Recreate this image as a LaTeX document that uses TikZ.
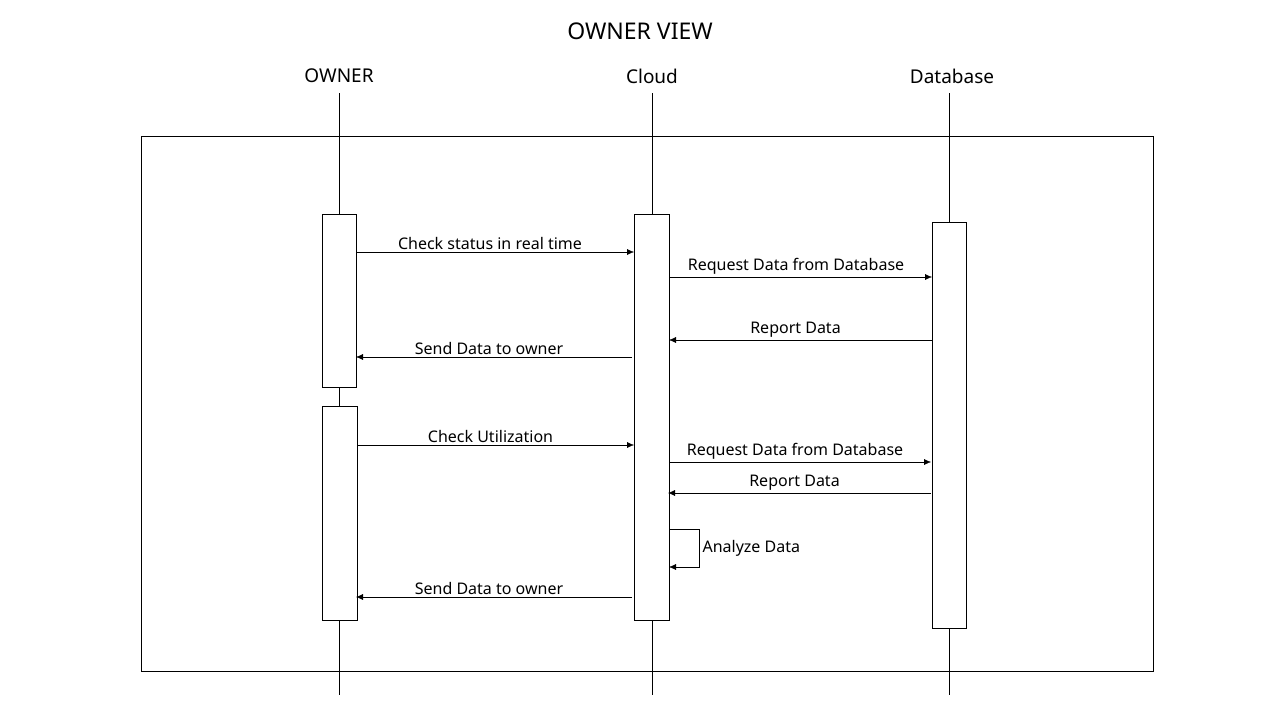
\documentclass[tikz,border=0pt]{standalone}
\usepackage{fontspec}
\setmainfont{Noto Sans}
\usetikzlibrary{positioning,arrows.meta}

\begin{document}
\begin{tikzpicture}[x=1pt, y=-1pt,
    msg/.style={-{Latex[length=7pt,width=6pt]}, thin},
    act/.style={draw, fill=white, thin},
    lbl/.style={font=\fontsize{16}{19}\selectfont, inner sep=2pt, above},
    head/.style={font=\fontsize{19}{23}\selectfont}]
  \useasboundingbox (0,0) rectangle (1280,720);

  % Title and frame
  \node[font=\fontsize{23}{27}\selectfont] (title) at (640,31) {OWNER VIEW};
  \draw[thin] (141,136) rectangle (1153,671);

  % Lifelines
  \node[head] (owner) at (339,76) {OWNER};
  \node[head] (cloud) at (652,76) {Cloud};
  \node[head] (db) at (952,76) {Database};
  \foreach \x/\n in {339/o, 652/c, 949/d} {
    \coordinate (\n top) at (\x,93);
    \coordinate (\n bot) at (\x,695);
    \draw[thin] (\n top) -- (\n bot);
  }

  % Activation boxes
  \draw[act] (322,214) rectangle (356,387);
  \draw[act] (322,406) rectangle (357,620);
  \draw[act] (634,214) rectangle (669,620);
  \draw[act] (932,222) rectangle (966,628);

  % Messages
  \foreach \xa/\xb/\y/\t [count=\i] in {
      356/634/252/{Check status in real time},
      670/932/277/{Request Data from Database},
      932/669/340/{Report Data},
      632/356/357/{Send Data to owner},
      357/634/445/{Check Utilization},
      669/931/462/{Request Data from Database},
      931/668/493/{Report Data},
      632/356/597/{Send Data to owner}} {
    \coordinate (s\i) at (\xa,\y);
    \coordinate (e\i) at (\xb,\y);
    \draw[msg] (s\i) -- node[lbl, xshift=-5pt] {\t} (e\i);
  }

  % Self call
  \coordinate (a1) at (669,529);
  \coordinate (a2) at (669,567);
  \draw[msg] (a1) -- ++(30,0) |- node[pos=0.25, right, font=\fontsize{16}{19}\selectfont] {Analyze Data} (a2);
\end{tikzpicture}
\end{document}
